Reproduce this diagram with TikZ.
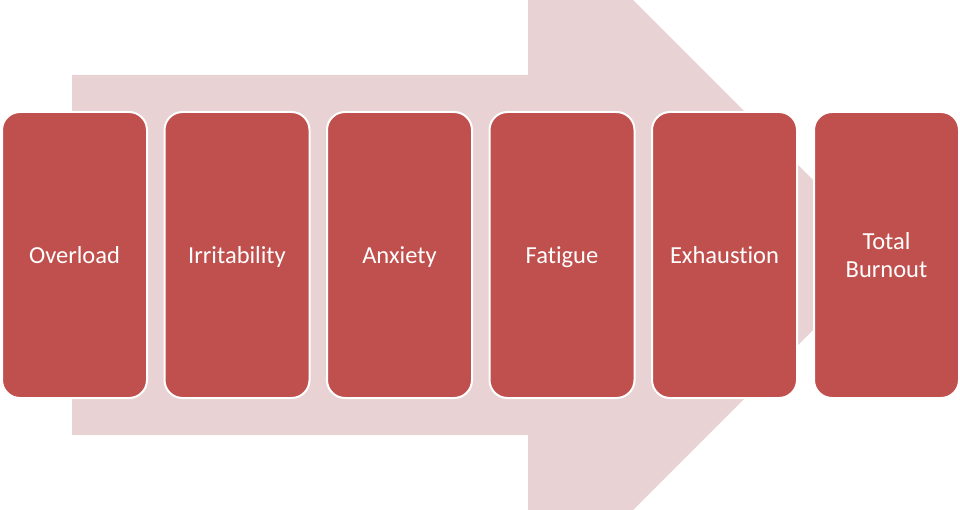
\documentclass[tikz,border=0pt]{standalone}
\usepackage{fontspec}
\setmainfont{Carlito}[Ligatures=NoCommon]
\definecolor{arrowpink}{HTML}{E8D2D3}
\definecolor{boxred}{HTML}{C0504D}
\begin{document}
\begin{tikzpicture}[x=1pt,y=-1pt,
  stage/.style={draw=white, line width=2pt, fill=boxred, rounded corners=18pt,
    minimum width=145pt, minimum height=286pt, text=white, align=center,
    font=\fontsize{24.5}{28}\selectfont, inner sep=0pt},
  oneline/.style={text height=20pt, text depth=2pt}]
\useasboundingbox (0,0) rectangle (960,510);
\begin{scope}
\clip (0,0) rectangle (960,510);
\fill[arrowpink] (72,75) -- (528,75) -- (528,-105) -- (888,255) -- (528,615) -- (528,435) -- (72,435) -- cycle;
\end{scope}
\node[stage, oneline] (s1) at (74.5,255) {Overload};
\node[stage, oneline] (s2) at (237,255) {Irritability};
\node[stage, oneline] (s3) at (399.5,255) {Anxiety};
\node[stage, oneline] (s4) at (562,255) {Fatigue};
\node[stage, oneline] (s5) at (724.5,255) {Exhaustion};
\node[stage] (s6) at (886.5,255) {Total\\Burnout};
\end{tikzpicture}
\end{document}
